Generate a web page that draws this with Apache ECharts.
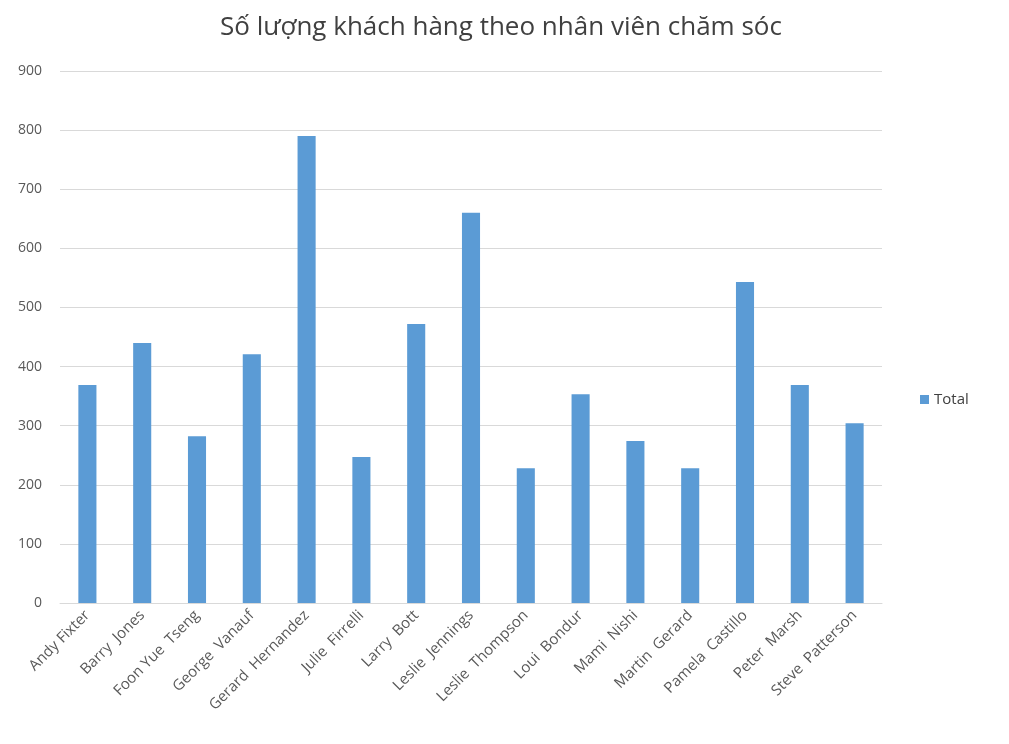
<!DOCTYPE html>
<html>
<head>
<meta charset="utf-8">
<script src="https://cdn.jsdelivr.net/npm/echarts@6/dist/echarts.min.js"></script>
<style>html,body{margin:0;padding:0;background:#fff}#main{width:1009px;height:744px}</style>
</head>
<body>
<div id="main"></div>
<script>
// dữ liệu
const categories = ['Andy Fixter', 'Barry  Jones', 'Foon Yue  Tseng', 'George  Vanauf', 'Gerard  Hernandez', 'Julie  Firrelli', 'Larry  Bott', 'Leslie  Jennings', 'Leslie  Thompson', 'Loui  Bondur', 'Mami  Nishi', 'Martin  Gerard', 'Pamela  Castillo', 'Peter  Marsh', 'Steve  Patterson'];
const totals = [369, 440, 282, 421, 790, 247, 472, 660, 228, 353, 274, 228, 543, 369, 304];

const chart = echarts.init(document.getElementById('main'));
const option = {
    backgroundColor: '#ffffff',
    title: {
        text: 'Số lượng khách hàng theo nhân viên chăm sóc',
        left: 496,
        textAlign: 'center',
        top: 10,
        textStyle: { fontFamily: 'Open Sans', fontWeight: 'normal', fontSize: 26, color: '#404040' }
    },
    legend: {
        data: ['Total'],
        orient: 'vertical',
        left: 915,
        top: 387,
        itemWidth: 9,
        itemHeight: 9,
        icon: 'rect',
        textStyle: { fontFamily: 'Open Sans', fontSize: 15, color: '#404040' }
    },
    grid: { left: 60, right: 127, top: 71, bottom: 141 },
    xAxis: {
        type: 'category',
        data: categories,
        axisTick: { show: false },
        axisLine: { lineStyle: { color: '#d9d9d9' } },
        axisLabel: { rotate: 45, interval: 0, fontFamily: 'Open Sans', fontSize: 15, color: '#595959', margin: 10 }
    },
    yAxis: {
        type: 'value',
        min: 0,
        max: 900,
        interval: 100,
        axisLine: { show: false },
        axisTick: { show: false },
        splitLine: { lineStyle: { color: '#d9d9d9' } },
        axisLabel: { fontFamily: 'Open Sans', fontSize: 14, color: '#595959', margin: 18 }
    },
    series: [{
        name: 'Total',
        type: 'bar',
        data: totals,
        barWidth: '33%',
        itemStyle: { color: '#5b9bd5' }
    }]
};
chart.setOption(option);
</script>
</body>
</html>
